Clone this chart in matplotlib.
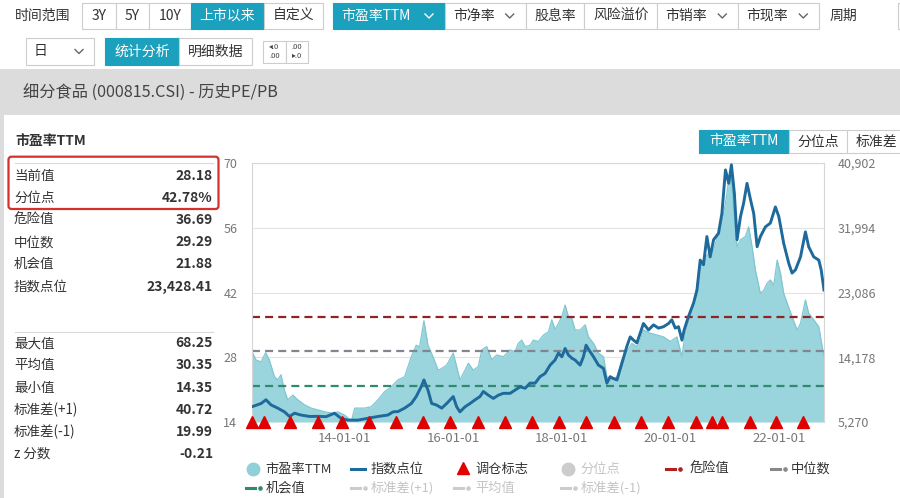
import matplotlib
matplotlib.use("Agg")
import matplotlib.pyplot as plt
from matplotlib.patches import Rectangle, FancyBboxPatch
from matplotlib.lines import Line2D
from matplotlib.transforms import IdentityTransform
import matplotlib.dates as mdates
import pandas as pd

plt.rcParams['font.family'] = ['Noto Sans CJK SC', 'DejaVu Sans']

# ---------------- data ----------------
pe_dates = ['2012-04-17','2012-05-14','2012-06-17','2012-07-18','2012-08-12','2012-09-15','2012-10-07','2012-10-29','2012-11-21','2012-12-13',
            '2013-01-17','2013-02-19','2013-04-06','2013-05-20','2013-07-05','2013-08-19','2013-10-13','2013-11-16','2013-12-30',
            '2014-02-03','2014-02-16','2014-03-09','2014-05-15','2014-06-28','2014-08-13','2014-09-27','2014-11-10','2014-12-25',
            '2015-02-08','2015-03-25','2015-04-27','2015-05-20','2015-06-18','2015-07-15','2015-08-18','2015-09-21','2015-10-11','2015-11-18',
            '2016-01-01','2016-01-24','2016-02-15','2016-03-09','2016-04-12','2016-05-15','2016-06-18','2016-07-11','2016-08-14','2016-09-16','2016-10-20','2016-12-03',
            '2017-01-18','2017-02-20','2017-03-14','2017-04-06','2017-04-29','2017-06-01','2017-06-23','2017-07-27','2017-08-30','2017-10-03','2017-10-25','2017-11-16','2017-12-09',
            '2018-01-01','2018-01-23','2018-02-14','2018-03-09','2018-03-31','2018-05-04','2018-06-07','2018-06-29','2018-08-02','2018-09-04','2018-10-08','2018-10-31','2018-12-03',
            '2019-01-07','2019-02-09','2019-03-14','2019-04-17','2019-05-21','2019-06-12','2019-07-04','2019-08-18','2019-10-03','2019-11-16',
            '2020-01-01','2020-02-14','2020-03-19','2020-04-10','2020-05-14','2020-06-16','2020-07-09','2020-08-11','2020-09-14','2020-10-18','2020-11-20','2020-12-13',
            '2021-01-06','2021-01-28','2021-02-13','2021-03-02','2021-03-25','2021-04-17','2021-05-20','2021-06-11','2021-07-04','2021-07-26','2021-08-29','2021-09-21','2021-10-13','2021-11-04','2021-11-27','2021-12-20',
            '2022-01-11','2022-02-02','2022-02-25','2022-03-30','2022-05-03','2022-05-26','2022-06-28','2022-07-20','2022-08-23','2022-09-26','2022-10-19','2022-10-31']
pe_values = [29.2, 27.4, 27.0, 29.0, 27.4, 23.8, 23.1, 24.2, 20.9, 18.8,
             19.8, 18.8, 17.7, 17.0, 16.6, 16.2, 15.9, 16.2, 15.5,
             14.6, 14.35, 17.0, 17.0, 17.3, 18.8, 20.6, 21.6, 23.1,
             23.8, 28.1, 30.6, 30.3, 35.9, 30.6, 28.1, 25.2, 25.5, 26.3,
             28.9, 26.0, 23.1, 24.5, 26.7, 25.2, 26.0, 29.6, 30.3, 27.4, 28.5, 28.1,
             29.6, 29.2, 31.0, 31.7, 30.3, 30.6, 31.7, 31.4, 32.8, 33.5, 36.1, 34.0, 35.3,
             36.8, 39.3, 36.8, 36.4, 33.9, 33.9, 35.0, 32.4, 31.0, 28.9, 28.1, 23.8, 23.1,
             23.8, 27.4, 29.2, 31.0, 30.3, 31.7, 33.9, 33.2, 32.8, 32.4,
             31.4, 32.4, 28.1, 33.2, 36.8, 40.4, 46.2, 49.0, 50.5, 51.2, 54.8, 57.3,
             61.3, 66.3, 68.25, 59.8, 51.9, 53.4, 54.1, 56.2, 51.9, 46.9, 41.8, 42.5, 44.0, 44.7, 43.6, 49.0,
             46.2, 41.8, 39.7, 36.8, 33.9, 35.3, 40.4, 37.5, 36.1, 34.6, 30.3, 28.18]

idx_dates = ['2012-04-17','2012-06-17','2012-07-20','2012-08-23','2012-10-07','2012-11-21','2012-12-25',
             '2013-01-28','2013-03-13','2013-05-09','2013-07-05','2013-08-28','2013-10-24','2013-12-07',
             '2014-01-22','2014-03-30','2014-06-05','2014-08-13','2014-10-18','2014-11-23','2014-12-25',
             '2015-02-08','2015-03-25','2015-04-27','2015-05-30','2015-06-18','2015-07-15','2015-08-09','2015-09-09','2015-10-16','2015-11-18',
             '2016-01-01','2016-01-24','2016-02-15','2016-03-21','2016-04-23','2016-05-27','2016-06-29','2016-07-22','2016-08-24','2016-09-27','2016-10-31','2016-12-03',
             '2017-01-18','2017-02-20','2017-03-26','2017-04-29','2017-06-01','2017-07-05','2017-08-07','2017-09-10','2017-10-14','2017-11-16','2017-12-09',
             '2018-01-01','2018-01-23','2018-02-14','2018-03-09','2018-03-31','2018-05-04','2018-05-26','2018-06-13','2018-07-10','2018-08-02','2018-09-04','2018-10-08','2018-10-31','2018-11-22','2018-12-14',
             '2019-01-07','2019-02-09','2019-03-14','2019-04-06','2019-04-28','2019-05-21','2019-06-12','2019-07-04','2019-08-07','2019-09-10','2019-10-13','2019-11-16','2019-12-20',
             '2020-01-11','2020-02-03','2020-02-25','2020-03-19','2020-04-03','2020-05-02','2020-06-05','2020-06-28','2020-07-20','2020-08-11','2020-09-03','2020-09-25','2020-10-18','2020-11-20','2020-12-13',
             '2021-01-06','2021-01-28','2021-02-15','2021-03-07','2021-03-25','2021-04-17','2021-05-08','2021-05-31','2021-06-24','2021-07-15','2021-08-07','2021-08-29','2021-10-02','2021-11-04','2021-12-08','2021-12-31',
             '2022-02-02','2022-03-08','2022-03-30','2022-04-22','2022-05-26','2022-06-28','2022-07-20','2022-08-23','2022-09-26','2022-10-12','2022-10-31']
idx_values = [7370, 7815, 8324, 7624, 7179, 6670, 6034,
              6479, 6224, 6034, 6050, 6000, 6479, 5779,
              5525, 5525, 5779, 6034, 6224, 6670, 6700,
              7179, 7815, 8770, 10106, 11060, 9660, 7815, 7624, 7179, 7815,
              8770, 7370, 6670, 7370, 7815, 8324, 8770, 9470, 8960, 8515, 8960, 9215,
              9215, 9660, 10106, 9915, 10615, 10615, 11506, 11951, 13096, 13796, 14751,
              14242, 15387, 14496, 14051, 13796, 13096, 14242, 15832, 14942, 14242, 13096, 12651, 10615, 11506, 11251,
              11060, 13351, 15642, 16978, 16532, 16151, 17487, 18823, 17932, 18632, 18187, 18378, 18823,
              19332, 18187, 18378, 16532, 17932, 19777, 21623, 23404, 27540, 26904, 30785, 27986, 30340, 31230, 33967,
              39948, 38103, 40648, 36703, 30340, 33521, 35366, 38103, 35812, 33967, 29385, 30785, 32121, 32630, 34857, 33521,
              29831, 27095, 25759, 26204, 27986, 31421, 29385, 27986, 27540, 26204, 23428.41]

rebalance_dates = ['2012-04-17','2012-07-06','2012-12-29','2013-07-03','2013-12-11','2014-06-14','2014-12-13',
                   '2015-06-14','2015-12-12','2016-06-14','2016-12-13','2017-06-14','2017-12-13','2018-06-13',
                   '2018-12-17','2019-06-20','2019-12-19','2020-06-21','2020-10-08','2020-12-17','2021-06-18',
                   '2021-12-14','2022-06-14']

danger_value = 36.69
median_value = 29.29
chance_value = 21.88

pe_ticks = [14, 28, 42, 56, 70]
idx_ticks = [5270, 14178, 23086, 31994, 40902]
idx_tick_labels = ['5,270', '14,178', '23,086', '31,994', '40,902']

stat_labels_top = ['当前值', '分位点', '危险值', '中位数', '机会值', '指数点位']
stat_values_top = ['28.18', '42.78%', '36.69', '29.29', '21.88', '23,428.41']
stat_labels_bottom = ['最大值', '平均值', '最小值', '标准差(+1)', '标准差(-1)', 'z 分数']
stat_values_bottom = ['68.25', '30.35', '14.35', '40.72', '19.99', '-0.21']

# ---------------- styling ----------------
TEAL = '#1ba1bd'
FILL = '#9ad4dc'
FILL_EDGE = '#7fc7d1'
INDEX_BLUE = '#1d6a9b'
DANGER = '#8e2424'
MEDIAN = '#84848f'
CHANCE = '#2e8b6e'
TXT = '#333333'
LIGHT = '#c4c4c4'

W, H = 900, 498
fig = plt.figure(figsize=(W / 100, H / 100), dpi=100)
fig.patch.set_facecolor('white')


def rect(x0, y0, x1, y1, fc, ec='none', lw=0.0, z=1):
    fig.add_artist(Rectangle((x0 / W, 1 - y1 / H), (x1 - x0) / W, (y1 - y0) / H,
                             transform=fig.transFigure, facecolor=fc, edgecolor=ec,
                             linewidth=lw, zorder=z))


def text(x, y, s, size=9.5, color=TXT, ha='left', weight='normal', z=5):
    fig.text(x / W, 1 - y / H, s, fontsize=size, color=color, ha=ha, va='center',
             fontweight=weight, zorder=z)


def seg(xs, ys, color, lw=1.0, z=5, **kw):
    fig.add_artist(Line2D([x / W for x in xs], [1 - y / H for y in ys],
                          transform=fig.transFigure, color=color, linewidth=lw,
                          zorder=z, **kw))


def mark(x, y, m, color, size):
    fig.add_artist(Line2D([x / W], [1 - y / H], transform=fig.transFigure, marker=m,
                          markersize=size, color=color, linestyle='none', zorder=6))


def chevron(xc, yc, color):
    seg([xc - 4, xc, xc + 4], [yc - 2, yc + 2, yc - 2], color, lw=1.0, z=6)


def button(x0, x1, y0, y1, label, active=False, arrow=False, size=10):
    rect(x0, y0, x1, y1, TEAL if active else 'white', TEAL if active else '#cdcdcd', 0.8, z=2)
    tc = 'white' if active else TXT
    yc = (y0 + y1) / 2
    if arrow:
        text(x0 + 8, yc, label, size, tc)
        chevron(x1 - 16, yc, tc if active else '#666666')
    else:
        text((x0 + x1) / 2, yc, label, size, tc, ha='center')


# ---------------- toolbar ----------------
text(15, 16, '时间范围', 10)
button(81.7, 115.7, 3, 29, '3Y')
button(115.7, 148.7, 3, 29, '5Y')
button(148.7, 190.7, 3, 29, '10Y')
button(190.7, 264, 3, 29, '上市以来', active=True)
button(264, 322.7, 3, 29, '自定义')
button(333.3, 445, 3, 29, '市盈率TTM', active=True, arrow=True)
button(445, 525.7, 3, 29, '市净率', arrow=True)
button(525.7, 584.3, 3, 29, '股息率')
button(584.3, 657.3, 3, 29, '风险溢价')
button(657.3, 738.3, 3, 29, '市销率', arrow=True)
button(738.3, 819.3, 3, 29, '市现率', arrow=True)
text(830, 16, '周期', 10)
rect(897.5, 3, 905, 29, 'white', '#cdcdcd', 0.8, z=2)

rect(25.7, 38, 94.3, 65, 'white', '#cdcdcd', 0.8, z=2)
text(34, 51.5, '日', 10)
chevron(79, 51.5, '#666666')
button(105.3, 179, 38, 65, '统计分析', active=True)
button(179, 251.7, 38, 65, '明细数据')
rect(262.7, 41, 286, 63, 'white', '#cdcdcd', 0.8, z=2)
rect(286, 41, 308.3, 63, 'white', '#cdcdcd', 0.8, z=2)
text(274.3, 47, '◂.0', 5.5, '#444444', ha='center')
text(274.3, 56.5, '.00', 5.5, '#444444', ha='center')
text(297.2, 47, '.00', 5.5, '#444444', ha='center')
text(297.2, 56.5, '▸.0', 5.5, '#444444', ha='center')

# ---------------- page header band ----------------
rect(0, 69, 900, 115, '#dcdcdc', z=1)
rect(0, 115, 4, 498, '#dcdcdc', z=1)
text(23, 92, '细分食品 (000815.CSI) - 历史PE/PB', 11.7, '#444444')

# ---------------- statistics panel ----------------
text(15, 141, '市盈率TTM', 10, TXT, weight='bold')
fig.add_artist(FancyBboxPatch((8.5, H - 209), 210, 52.3,
                              boxstyle='round,pad=0,rounding_size=3',
                              transform=IdentityTransform(), facecolor='none',
                              edgecolor='#d2322b', linewidth=1.6, zorder=6))
seg([15, 213], [163.5, 163.5], '#d8d8d8', 0.8)
for i, (lab, val) in enumerate(zip(stat_labels_top, stat_values_top)):
    y = 176 + i * 22.1
    text(14, y, lab, 9.7)
    text(213, y, val, 10, TXT, ha='right', weight='bold')
seg([15, 213], [332.3, 332.3], '#d8d8d8', 0.8)
for i, (lab, val) in enumerate(zip(stat_labels_bottom, stat_values_bottom)):
    y = 343.3 + i * 22.1
    text(14, y, lab, 9.7)
    text(213, y, val, 10, TXT, ha='right', weight='bold')

# ---------------- chart tabs ----------------
button(699, 789, 130, 153, '市盈率TTM', active=True)
button(789, 847, 130, 153, '分位点')
button(847, 907, 130, 153, '标准差')

# ---------------- chart ----------------
pe_x = pd.to_datetime(pe_dates)
idx_x = pd.to_datetime(idx_dates)
reb_x = pd.to_datetime(rebalance_dates)

ax = fig.add_axes([252 / W, 1 - 422 / H, (824 - 252) / W, (422 - 163) / H])
ax.set_facecolor('white')
ax.set_ylim(pe_ticks[0], pe_ticks[-1])
ax.set_xlim(pe_x[0], pe_x[-1])
ax.set_yticks(pe_ticks)
ax.yaxis.grid(True, color='#e3e3e3', linewidth=0.8)
ax.set_axisbelow(True)

ax.fill_between(pe_x, pe_values, pe_ticks[0], color=FILL, linewidth=0, zorder=1)
ax.plot(pe_x, pe_values, color=FILL_EDGE, linewidth=0.9, zorder=1.5)

for val, col in [(danger_value, DANGER), (median_value, MEDIAN), (chance_value, CHANCE)]:
    ln = ax.axhline(val, color=col, linewidth=1.6, zorder=2)
    ln.set_dashes([3.6, 2.3])

ax2 = ax.twinx()
ax2.set_ylim(idx_ticks[0], idx_ticks[-1])
ax2.set_yticks(idx_ticks)
ax2.set_yticklabels(idx_tick_labels)
ax2.plot(idx_x, idx_values, color=INDEX_BLUE, linewidth=2.1, zorder=3)
ax2.plot(reb_x, [idx_ticks[0]] * len(reb_x), linestyle='none', marker='^',
         markersize=8, color='#e00000', clip_on=False, zorder=5)

ax.xaxis.set_major_locator(mdates.YearLocator(base=2, month=1, day=1))
ax.xaxis.set_major_formatter(mdates.DateFormatter('%y-%m-%d'))

for a in (ax, ax2):
    for side in a.spines:
        a.spines[side].set_visible(False)
for side in ('left', 'top', 'right'):
    ax.spines[side].set_visible(True)
    ax.spines[side].set_color('#d6d6d6')
    ax.spines[side].set_linewidth(0.8)

ax.tick_params(axis='y', length=0, pad=10.5, labelsize=9, labelcolor='#777777')
ax.tick_params(axis='x', length=0, pad=7, labelsize=9.5, labelcolor='#777777')
ax2.tick_params(axis='y', length=0, pad=10, labelsize=9, labelcolor='#777777')

# ---------------- legend ----------------
def dash_dot(x, y, color):
    seg([x, x + 9], [y, y], color, lw=2.2)
    mark(x + 13.5, y, 'o', color, 2.3)

r1, r2 = 469, 488
mark(252.6, r1, 'o', '#8fd0d9', 9)
text(265.5, r1, '市盈率TTM', 9.5)
seg([351, 365], [r1, r1], INDEX_BLUE, lw=2.2)
text(370.5, r1, '指数点位', 9.5)
mark(462.7, r1 - 1, '^', '#e00000', 8)
text(475.6, r1, '调仓标志', 9.5)
mark(567.8, r1, 'o', '#cccccc', 9)
text(580.6, r1, '分位点', 9.5, LIGHT)
dash_dot(666, r1, '#b02020')
text(690, r1, '危险值', 9.5)
dash_dot(771, r1, '#888888')
text(790.7, r1, '中位数', 9.5)
dash_dot(246, r2, CHANCE)
text(265.5, r2, '机会值', 9.5)
dash_dot(351, r2, '#cccccc')
text(370.5, r2, '标准差(+1)', 9.5, LIGHT)
dash_dot(454, r2, '#cccccc')
text(475.6, r2, '平均值', 9.5, LIGHT)
dash_dot(561, r2, '#cccccc')
text(580.6, r2, '标准差(-1)', 9.5, LIGHT)

fig.savefig('out.png', dpi=100)
